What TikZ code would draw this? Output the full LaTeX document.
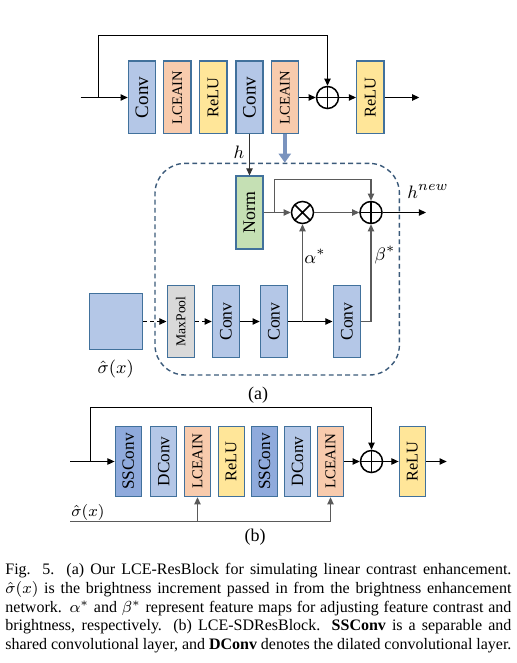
\documentclass[tikz,border=0pt]{standalone}
\usepackage{fontspec}
\setmainfont{Liberation Serif}
\usepackage{graphicx}
\usetikzlibrary{arrows.meta}
\definecolor{convc}{HTML}{B4C7E7}
\definecolor{ssc}{HTML}{8FAADC}
\definecolor{lcec}{HTML}{F8CBAD}
\definecolor{reluc}{HTML}{FFE699}
\definecolor{normc}{HTML}{C5E0B4}
\definecolor{poolc}{HTML}{D9D9D9}
\definecolor{bordc}{HTML}{41719C}
\definecolor{dashc}{HTML}{3B5A7A}
\definecolor{thickc}{HTML}{7A93BE}
\definecolor{innerc}{HTML}{5A5A5A}
\newcommand\vtxt[2]{\rotatebox{90}{\fontsize{#1}{#1}\selectfont #2}}
\begin{document}
\begin{tikzpicture}[x=0.5pt,y=-0.5pt,
 blk/.style={draw=bordc,line width=0.7pt,inner sep=0pt,minimum width=13.6pt,minimum height=36.3pt},
 blkb/.style={blk,minimum width=13pt,minimum height=35pt},
 arr/.style={-{Triangle[length=3.6pt,width=3.2pt]},line width=0.55pt},
 ln/.style={line width=0.55pt},
 sumc/.style={circle,draw,line width=0.75pt,minimum size=11pt,inner sep=0pt},
 oplus/.style={sumc,path picture={\draw[line width=0.75pt] (path picture bounding box.north) -- (path picture bounding box.south) (path picture bounding box.west) -- (path picture bounding box.east);}},
 otimes/.style={sumc,path picture={\draw[line width=0.75pt] (path picture bounding box.north west) -- (path picture bounding box.south east) (path picture bounding box.north east) -- (path picture bounding box.south west);}},
 lab/.style={inner sep=0pt,font=\fontsize{9}{9}\selectfont},
]
\useasboundingbox (0,0) rectangle (517,663);

% ---------- (a) top row ----------
\node[blk,fill=convc] (c1) at (142,97.5) {\vtxt{9.5}{Conv}};
\node[blk,fill=lcec] (l1) at (177.3,97.5) {\vtxt{7.3}{LCEAIN}};
\node[blk,fill=reluc] (r1) at (213.2,97.5) {\vtxt{8.2}{ReLU}};
\node[blk,fill=convc] (c2) at (249.5,97.5) {\vtxt{9.5}{Conv}};
\node[blk,fill=lcec] (l2) at (284.8,97.5) {\vtxt{7.3}{LCEAIN}};
\node[oplus] (p1) at (327.5,97.5) {};
\node[blk,fill=reluc] (r2) at (370.3,97.5) {\vtxt{8.2}{ReLU}};
\coordinate (in1) at (80.7,97.5);
\coordinate (s1) at (98.5,97.5);
\coordinate (out1) at (419.3,97.5);
\draw[arr] (in1) -- (c1);
\draw[arr] (s1) -- (98.5,35.5) -| (p1.north);
\draw[arr] (l2) -- (p1);
\draw[arr] (p1) -- (r2);
\draw[arr] (r2) -- (out1);

% ---------- (a) inner block ----------
\node[draw=dashc,dashed,dash pattern=on 2.4pt off 1.7pt,line width=0.7pt,rounded corners=15pt,minimum width=122.2pt,minimum height=105.8pt,inner sep=0pt] (grp) at (277.2,269.2) {};
\node[blk,fill=normc] (norm) at (249.5,212.5) {\vtxt{8.9}{Norm}};
\node[otimes] (ot) at (302.5,212.5) {};
\node[oplus] (op) at (371,212.5) {};
\coordinate (br) at (274.5,212.5);
\coordinate (hout) at (426,212.5);
\draw[arr,color=black!80] (c2.south) -- (c2.south |- norm.north);
\node[lab,font=\fontsize{9.5}{9.5}\selectfont] (hl) at (239,152.5) {$h$};
\draw[line width=2.3pt,color=thickc,-{Triangle[length=4.5pt,width=6pt]}] (l2.south) -- (l2.south |- grp.north);
\draw[arr,color=innerc] (norm) -- (ot);
\draw[arr,color=innerc] (br) -- (br |- 0,179.5) -| (op.north);
\draw[arr,color=innerc] (ot) -- (op);
\draw[arr] (op) -- (hout);
\node[lab,font=\fontsize{9.5}{9.5}\selectfont] (hn) at (428,191.5) {$h^{new}$};

\node[blk,fill=poolc,minimum height=35.8pt] (mp) at (180.8,321.5) {\vtxt{6.8}{MaxPool}};
\node[blk,fill=convc,minimum height=35.8pt] (ca) at (226,321.5) {\vtxt{8.8}{Conv}};
\node[blk,fill=convc,minimum height=35.8pt] (cb) at (274,321.5) {\vtxt{8.8}{Conv}};
\node[blk,fill=convc,minimum height=35.8pt] (cc) at (346.8,321.5) {\vtxt{8.8}{Conv}};
\node[draw=bordc,line width=0.7pt,fill=convc,minimum width=26.5pt,minimum height=28pt,inner sep=0pt] (sig) at (115.8,321.5) {};
\node[lab,font=\fontsize{8.8}{8.8}\selectfont] (sigl) at (115.7,369) {$\hat{\sigma}(x)$};
\coordinate (ab) at (302.5,321.5);
\draw[arr,dashed,dash pattern=on 2pt off 1.5pt] (sig) -- (mp);
\draw[arr,dashed,dash pattern=on 2pt off 1.5pt] (mp) -- (ca);
\draw[arr] (ca) -- (cb);
\draw[arr] (cb) -- (cc);
\draw[arr,color=innerc] (ab) -- (ot.south);
\draw[arr,color=innerc] (cc.east) -| (op.south);
\node[lab,font=\fontsize{9.5}{9.5}\selectfont] (al) at (315,256) {$\alpha^*$};
\node[lab,font=\fontsize{9.5}{9.5}\selectfont] (bl) at (385,255) {$\beta^*$};
\node[lab] (capa) at (258,395) {(a)};

% ---------- (b) ----------
\node[blkb,fill=ssc] (ss1) at (128.3,461.5) {\vtxt{8.6}{SSConv}};
\node[blkb,fill=convc] (dc1) at (163.7,461.5) {\vtxt{8.6}{DConv}};
\node[blkb,fill=lcec] (le1) at (197.5,461.5) {\vtxt{7.5}{LCEAIN}};
\node[blkb,fill=reluc] (re1) at (231.2,461.5) {\vtxt{8.2}{ReLU}};
\node[blkb,fill=ssc] (ss2) at (264.5,461.5) {\vtxt{8.6}{SSConv}};
\node[blkb,fill=convc] (dc2) at (297.5,461.5) {\vtxt{8.6}{DConv}};
\node[blkb,fill=lcec] (le2) at (330.5,461.5) {\vtxt{7.5}{LCEAIN}};
\node[oplus] (pb) at (371.5,461.5) {};
\node[blkb,fill=reluc] (re2) at (412.3,461.5) {\vtxt{8.2}{ReLU}};
\coordinate (inb) at (70,461.5);
\coordinate (sb) at (90.5,461.5);
\coordinate (outb) at (446.7,461.5);
\coordinate (sigs) at (70,521.5);
\coordinate (sige) at (330.5,521.5);
\draw[arr] (inb) -- (ss1.west |- inb);
\draw[arr] (sb) -- (90.5,407.5) -| (pb.north);
\draw[arr] (le2.east |- pb) -- (pb);
\draw[arr] (pb) -- (re2.west |- pb);
\draw[arr] (re2.east |- pb) -- (outb);
\draw[ln,color=innerc] (sigs) -- (sige);
\draw[arr,color=innerc] (le1.south |- sigs) -- (le1.south);
\draw[arr,color=innerc] (sige) -- (le2.south);
\node[lab,font=\fontsize{8.5}{8.5}\selectfont,anchor=base] (sigb) at (88,516) {$\hat{\sigma}(x)$};
\node[lab] (capb) at (255,536.7) {(b)};

% ---------- caption ----------
\node[anchor=north west,inner sep=0pt,align=left,font=\fontsize{8}{9.375}\selectfont] (cap) at (5,563) {%
\makebox[253pt][s]{Fig. 5.\hspace{6pt}(a) Our LCE-ResBlock for simulating linear contrast enhancement.}\\
\makebox[253pt][s]{$\hat{\sigma}(x)$ is the brightness increment passed in from the brightness enhancement}\\
\makebox[253pt][s]{network. $\alpha^*$ and $\beta^*$ represent feature maps for adjusting feature contrast and}\\
\makebox[253pt][s]{brightness, respectively. (b) LCE-SDResBlock. \textbf{SSConv} is a separable and}\\
\makebox[253pt][s]{shared convolutional layer, and \textbf{DConv} denotes the dilated convolutional layer.}};
\end{tikzpicture}
\end{document}
